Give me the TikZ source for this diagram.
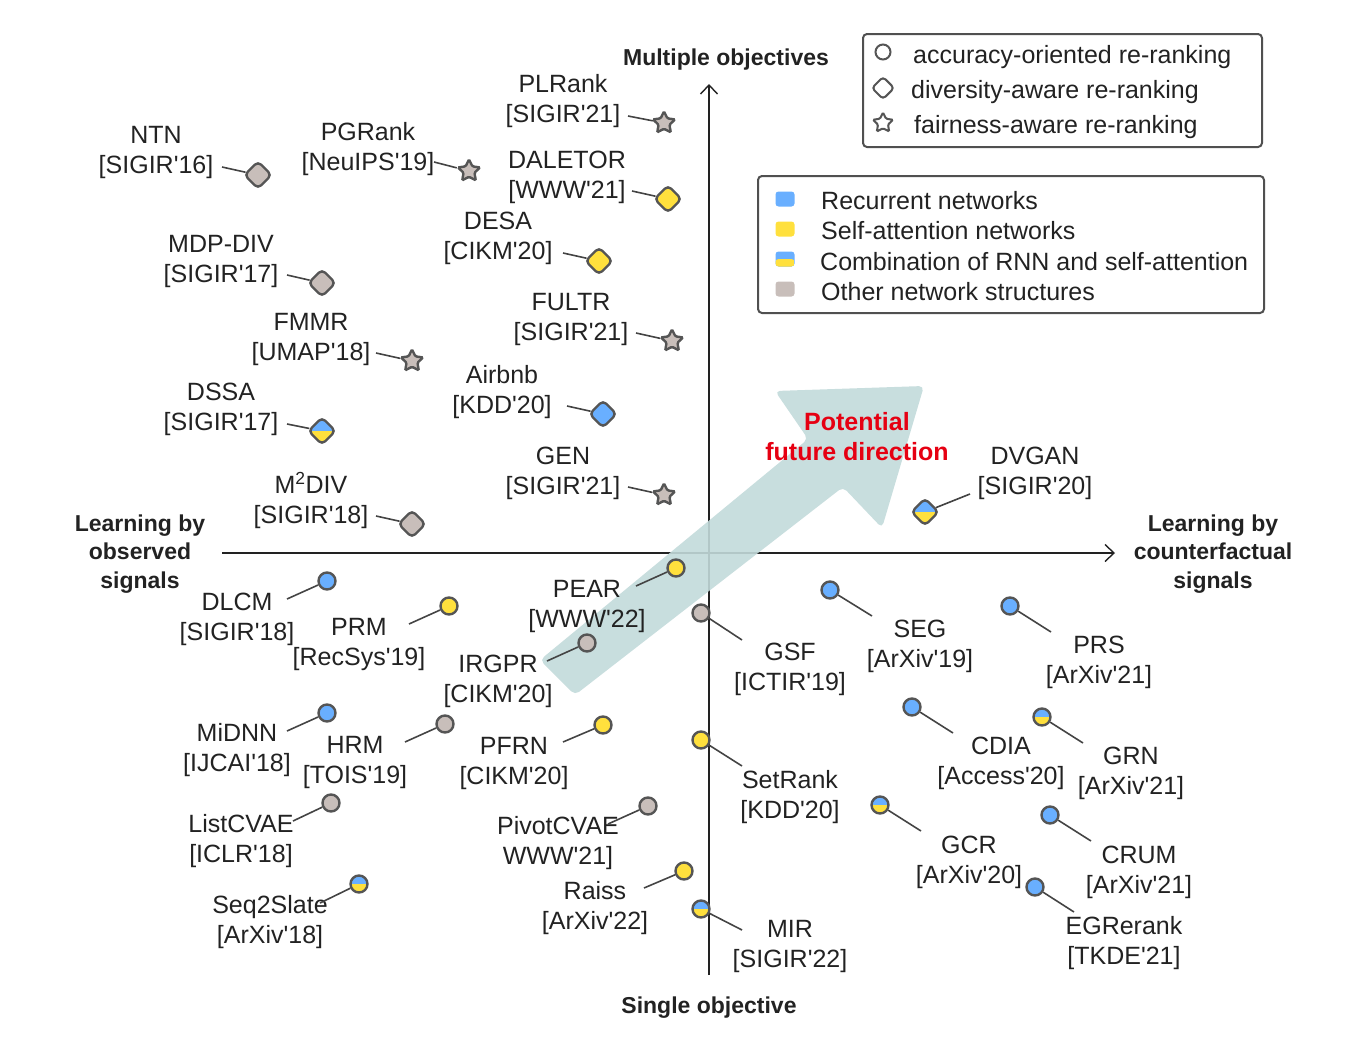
\documentclass[tikz,border=0pt]{standalone}
\usepackage{fontspec}
\setmainfont{Liberation Sans}[Ligatures=TeXOff]
\usetikzlibrary{shapes.geometric,arrows.meta}
\definecolor{bl}{RGB}{105,175,255}
\definecolor{yl}{RGB}{255,224,61}
\definecolor{gy}{RGB}{200,190,186}
\definecolor{mkb}{RGB}{85,85,85}
\definecolor{conc}{RGB}{68,68,68}
\definecolor{txt}{RGB}{34,34,34}
\definecolor{arr}{RGB}{194,218,218}
\definecolor{potred}{RGB}{230,0,18}
\definecolor{boxc}{RGB}{80,80,80}
\begin{document}
\begin{tikzpicture}[x=1pt,y=-1pt,
  lab/.style={align=center, inner sep=0pt, font=\fontsize{25}{30}\selectfont, text=txt},
  legt/.style={anchor=west, inner sep=0pt, font=\fontsize{25}{30}\selectfont, text=txt},
  axl/.style={align=center, inner sep=0pt, font=\fontsize{23}{28.5}\selectfont\bfseries, text=txt},
  mk/.style={draw=mkb, line width=2.4pt, inner sep=0pt},
  circ/.style={mk, circle, minimum size=17pt},
  diam/.style={mk, diamond, minimum size=28pt, rounded corners=4.5pt},
  starm/.style={mk, star, star points=5, star point ratio=2.0, minimum size=23pt, rounded corners=1.2pt},
  halfby/.style={fill=bl, path picture={\fill[yl] (path picture bounding box.west) rectangle (path picture bounding box.south east);}},
  con/.style={draw=conc, line width=1.6pt},
  axis/.style={draw=txt, line width=1.4pt, -{Straight Barb[length=9pt,width=17pt,line width=1.4pt]}},
  legbox/.style={draw=boxc, line width=2pt, rounded corners=4pt},
  sw/.style={rectangle, rounded corners=3pt, minimum width=19pt, minimum height=15pt, inner sep=0pt},
]
\useasboundingbox (0,0) rectangle (1358,1052);

% axes
\coordinate (xa) at (222,553);
\coordinate (xb) at (1115,553);
\coordinate (ya) at (709,975);
\coordinate (yb) at (709,84);
\draw[axis] (xa) -- (xb);
\draw[axis] (ya) -- (yb);

% big arrow
\fill[arr, fill opacity=0.9, rounded corners=5pt]
  (540,660) -- (575,695) -- (843,487) -- (882,528) -- (924,386) -- (775,391) -- (808,439) -- cycle;
\node[font=\fontsize{25}{30}\selectfont\bfseries, text=potred, align=center, inner sep=0pt] (pfd) at (857,439) {Potential\strut\\\strut future direction};

% axis labels
\node[axl] (lmo) at (726,60) {Multiple objectives\strut};
\node[axl] (lso) at (709,1008) {Single objective\strut};
\node[axl] (lobs) at (140,554) {Learning by\strut\\\strut observed\\\strut signals};
\node[axl] (lcf) at (1213,554) {Learning by\strut\\\strut counterfactual\\\strut signals};

% legend 1
\draw[legbox] (863,34) rectangle (1262,147);
\node[circ, minimum size=15pt, line width=2pt, fill=white] (lg1) at (883,52) {};
\node[diam, minimum size=23pt, rounded corners=3.5pt, line width=2pt, fill=white] (lg2) at (883,88) {};
\node[starm, minimum size=21pt, line width=2pt, fill=white] (lg3) at (883,123) {};
\node[legt] (lt1) at (913,57) {accuracy-oriented re-ranking\strut};
\node[legt] (lt2) at (911,92) {diversity-aware re-ranking\strut};
\node[legt] (lt3) at (914,127) {fairness-aware re-ranking\strut};

% legend 2
\draw[legbox] (758,176) rectangle (1264,313);
\node[sw, fill=bl] (sw1) at (785,199) {};
\node[sw, fill=yl] (sw2) at (785,229) {};
\node[sw, halfby] (sw3) at (785,259) {};
\node[sw, fill=gy] (sw4) at (785,289) {};
\node[legt] (lt4) at (821,203) {Recurrent networks\strut};
\node[legt] (lt5) at (821,233) {Self-attention networks\strut};
\node[legt] (lt6) at (820,264) {Combination of RNN and self-attention\strut};
\node[legt] (lt7) at (821,294) {Other network structures\strut};

% markers
\node[diam, fill=gy] (m1) at (258,175) {};
\node[starm, fill=gy] (m2) at (469,171) {};
\node[starm, fill=gy] (m3) at (664,123) {};
\node[diam, fill=yl] (m4) at (668,199) {};
\node[diam, fill=yl] (m5) at (599,261) {};
\node[diam, fill=gy] (m6) at (322,283) {};
\node[starm, fill=gy] (m7) at (672,341) {};
\node[starm, fill=gy] (m8) at (412,361) {};
\node[diam, fill=bl] (m9) at (603,414) {};
\node[diam, halfby] (m10) at (322,431) {};
\node[starm, fill=gy] (m11) at (664,495) {};
\node[diam, fill=gy] (m12) at (412,524) {};
\node[diam, halfby] (m13) at (925,512) {};
\node[circ, fill=bl] (m14) at (327,581) {};
\node[circ, fill=yl] (m15) at (449,606) {};
\node[circ, fill=yl] (m16) at (676,568) {};
\node[circ, fill=gy] (m17) at (587,643) {};
\node[circ, fill=bl] (m18) at (327,713) {};
\node[circ, fill=gy] (m19) at (445,724) {};
\node[circ, fill=yl] (m20) at (603,725) {};
\node[circ, fill=gy] (m21) at (331,803) {};
\node[circ, fill=gy] (m22) at (648,806) {};
\node[circ, halfby] (m23) at (359,884) {};
\node[circ, fill=yl] (m24) at (684,871) {};
\node[circ, fill=gy] (m25) at (701,613) {};
\node[circ, fill=bl] (m26) at (830,590) {};
\node[circ, fill=bl] (m27) at (1010,606) {};
\node[circ, fill=bl] (m28) at (912,707) {};
\node[circ, halfby] (m29) at (1042,717) {};
\node[circ, fill=yl] (m30) at (701,740) {};
\node[circ, halfby] (m31) at (880,805) {};
\node[circ, fill=bl] (m32) at (1050,815) {};
\node[circ, fill=bl] (m33) at (1035,887) {};
\node[circ, halfby] (m34) at (701,909) {};

% labels
\node[lab] (l1) at (156,152) {NTN\strut\\\strut[SIGIR'16]};
\node[lab] (l2) at (368,149) {PGRank\strut\\\strut[NeuIPS'19]};
\node[lab] (l3) at (563,101) {PLRank\strut\\\strut[SIGIR'21]};
\node[lab] (l4) at (567,177) {DALETOR\strut\\\strut[WWW'21]};
\node[lab] (l5) at (498,238) {DESA\strut\\\strut[CIKM'20]};
\node[lab] (l6) at (221,261) {MDP-DIV\strut\\\strut[SIGIR'17]};
\node[lab] (l7) at (571,319) {FULTR\strut\\\strut[SIGIR'21]};
\node[lab] (l8) at (311,339) {FMMR\strut\\\strut[UMAP'18]};
\node[lab] (l9) at (502,392) {Airbnb\strut\\\strut[KDD'20]};
\node[lab] (l10) at (221,409) {DSSA\strut\\\strut[SIGIR'17]};
\node[lab] (l11) at (563,473) {GEN\strut\\\strut[SIGIR'21]};
\node[lab] (l12) at (311,502) {M\textsuperscript{2}DIV\strut\\\strut[SIGIR'18]};
\node[lab] (l13) at (1035,473) {DVGAN\strut\\\strut[SIGIR'20]};
\node[lab] (l14) at (237,619) {DLCM\strut\\\strut[SIGIR'18]};
\node[lab] (l15) at (359,644) {PRM\strut\\\strut[RecSys'19]};
\node[lab] (l16) at (587,606) {PEAR\strut\\\strut[WWW'22]};
\node[lab] (l17) at (498,681) {IRGPR\strut\\\strut[CIKM'20]};
\node[lab] (l18) at (237,750) {MiDNN\strut\\\strut[IJCAI'18]};
\node[lab] (l19) at (355,762) {HRM\strut\\\strut[TOIS'19]};
\node[lab] (l20) at (514,763) {PFRN\strut\\\strut[CIKM'20]};
\node[lab] (l21) at (241,841) {ListCVAE\strut\\\strut[ICLR'18]};
\node[lab] (l22) at (558,843) {PivotCVAE\strut\\\strut WWW'21]};
\node[lab] (l23) at (270,922) {Seq2Slate\strut\\\strut[ArXiv'18]};
\node[lab] (l24) at (595,908) {Raiss\strut\\\strut[ArXiv'22]};
\node[lab] (l25) at (790,669) {GSF\strut\\\strut[ICTIR'19]};
\node[lab] (l26) at (920,646) {SEG\strut\\\strut[ArXiv'19]};
\node[lab] (l27) at (1099,662) {PRS\strut\\\strut[ArXiv'21]};
\node[lab] (l28) at (1001,763) {CDIA\strut\\\strut[Access'20]};
\node[lab] (l29) at (1131,773) {GRN\strut\\\strut[ArXiv'21]};
\node[lab] (l30) at (790,797) {SetRank\strut\\\strut[KDD'20]};
\node[lab] (l31) at (969,862) {GCR\strut\\\strut[ArXiv'20]};
\node[lab] (l32) at (1139,872) {CRUM\strut\\\strut[ArXiv'21]};
\node[lab] (l33) at (1124,943) {EGRerank\strut\\\strut[TKDE'21]};
\node[lab] (l34) at (790,946) {MIR\strut\\\strut[SIGIR'22]};

% connector free ends (at the labels)
\coordinate (s1) at (222,167);
\coordinate (s2) at (434,162);
\coordinate (s3) at (628,116);
\coordinate (s4) at (632,191);
\coordinate (s5) at (563,253);
\coordinate (s6) at (287,275);
\coordinate (s7) at (636,333);
\coordinate (s8) at (376,353);
\coordinate (s9) at (567,406);
\coordinate (s10) at (287,424);
\coordinate (s11) at (628,487);
\coordinate (s12) at (376,516);
\coordinate (s13) at (970,494);
\coordinate (s14) at (287,599);
\coordinate (s15) at (409,624);
\coordinate (s16) at (636,586);
\coordinate (s17) at (547,661);
\coordinate (s18) at (287,731);
\coordinate (s19) at (405,742);
\coordinate (s20) at (563,742);
\coordinate (s21) at (293,821);
\coordinate (s22) at (608,824);
\coordinate (s23) at (320,903);
\coordinate (s24) at (644,888);
\coordinate (s25) at (742,640);
\coordinate (s26) at (872,616);
\coordinate (s27) at (1051,632);
\coordinate (s28) at (953,733);
\coordinate (s29) at (1083,743);
\coordinate (s30) at (742,766);
\coordinate (s31) at (921,831);
\coordinate (s32) at (1091,841);
\coordinate (s33) at (1074,912);
\coordinate (s34) at (742,930);

\foreach \i in {1,...,34} {\draw[con] (s\i) -- (m\i);}
\end{tikzpicture}
\end{document}
